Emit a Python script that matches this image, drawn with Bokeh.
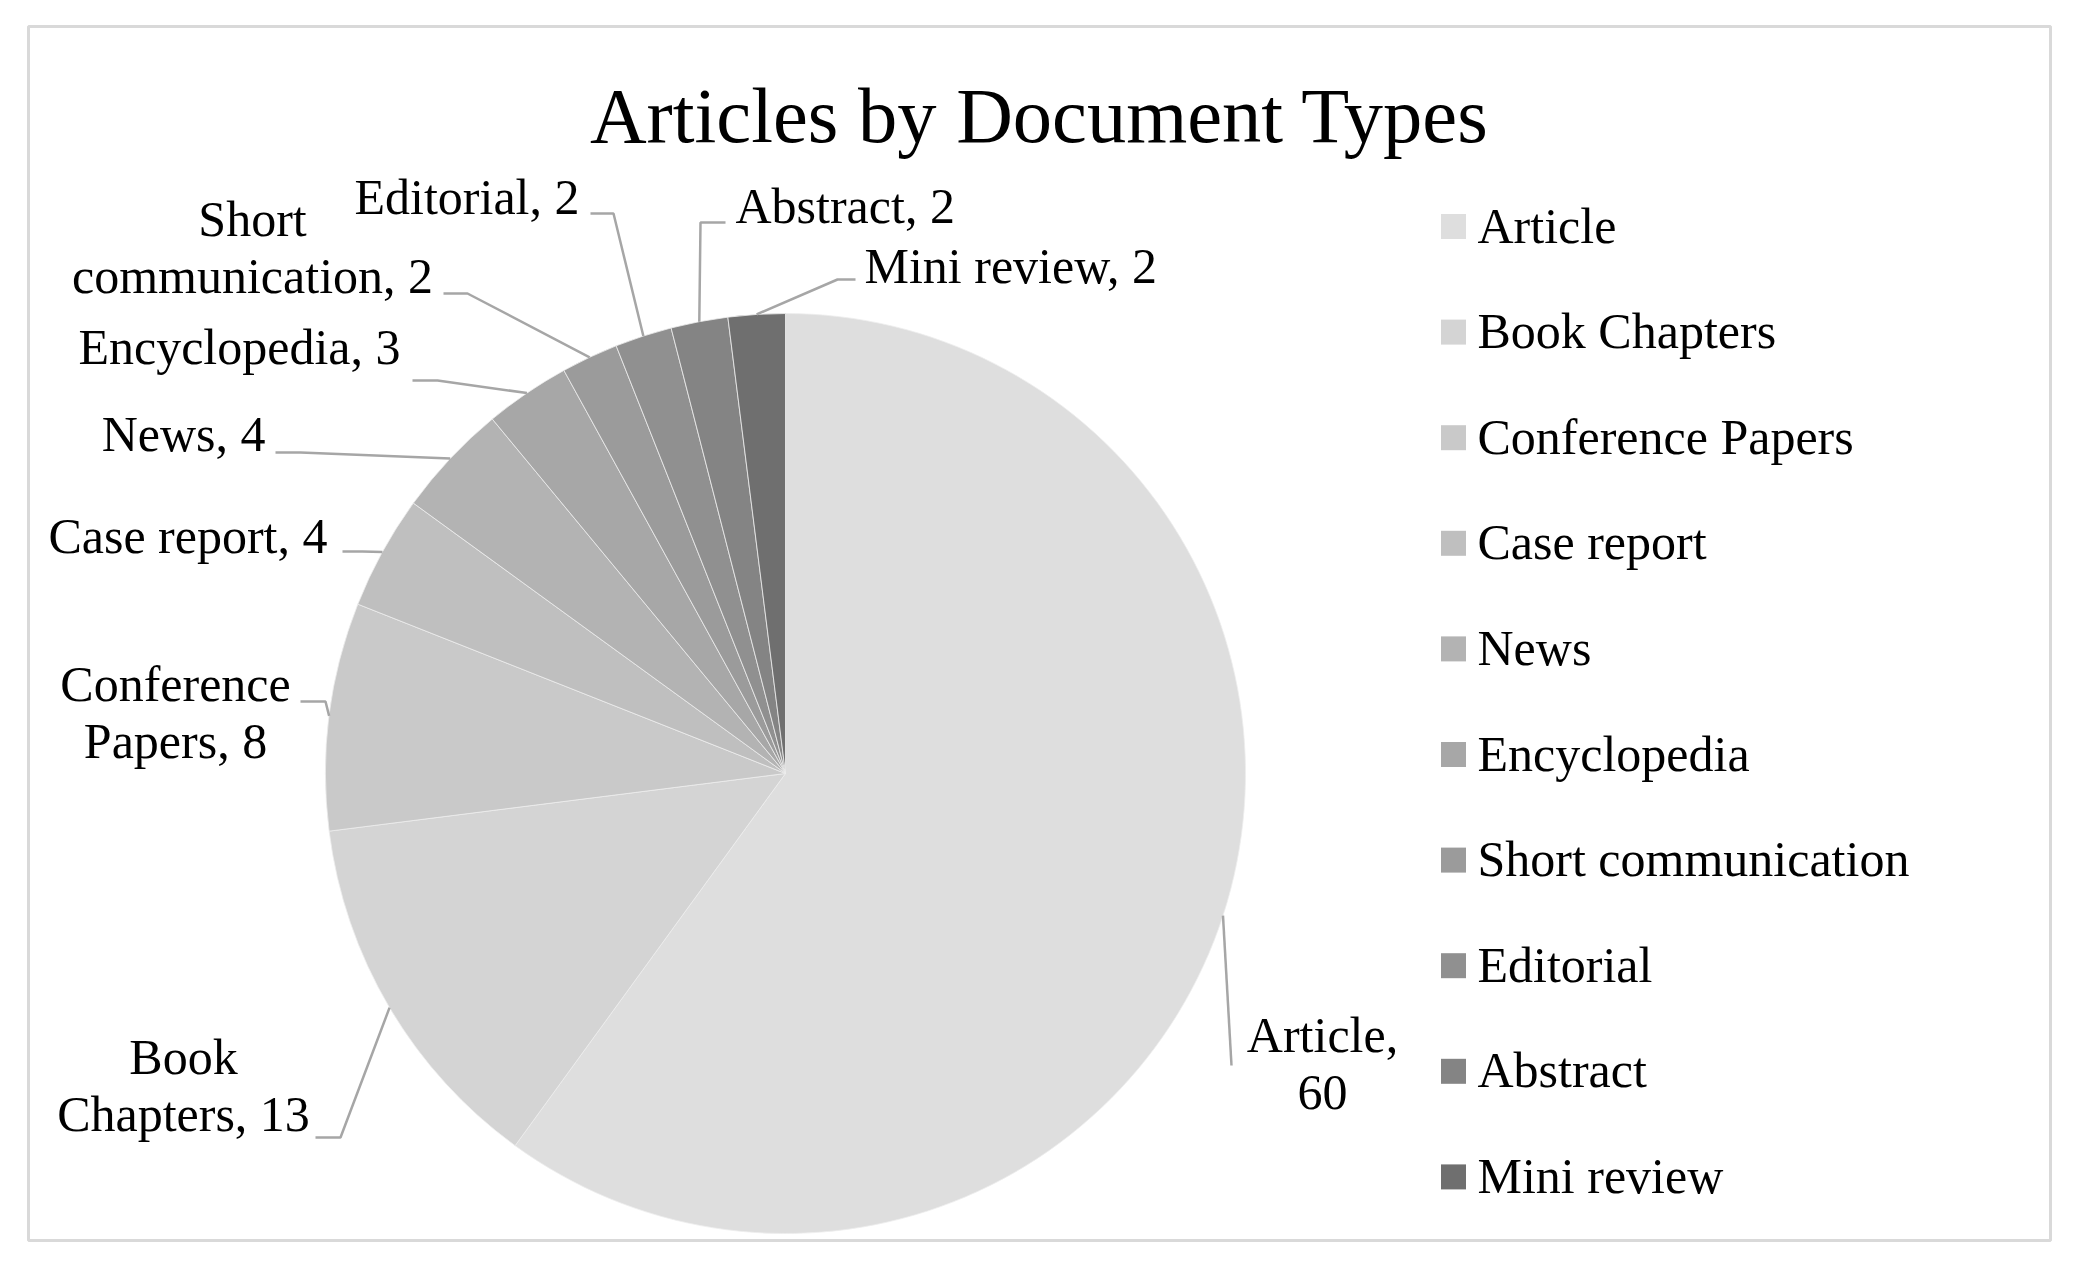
import math
from bokeh.plotting import figure
from bokeh.models import Range1d, ColumnDataSource
from bokeh.core.properties import value
from bokeh.embed import file_html
from bokeh.resources import INLINE

# ---------------- data ----------------
categories = ["Article", "Book Chapters", "Conference Papers", "Case report", "News",
              "Encyclopedia", "Short communication", "Editorial", "Abstract", "Mini review"]
counts = [60, 13, 8, 4, 4, 3, 2, 2, 2, 2]
colors = ["#dedede", "#d4d4d4", "#c9c9c9", "#bfbfbf", "#b3b3b3",
          "#a7a7a7", "#9b9b9b", "#909090", "#848484", "#6f6f6f"]
# how each data label is broken into lines
label_lines = [["Article,", "60"], ["Book", "Chapters, 13"], ["Conference", "Papers, 8"],
               ["Case report, 4"], ["News, 4"], ["Encyclopedia, 3"],
               ["Short", "communication, 2"], ["Editorial, 2"], ["Abstract, 2"], ["Mini review, 2"]]
title = "Articles by Document Types"

# ---------------- layout (page pixels, y measured from top) ----------------
W, H = 2077, 1270
FONT = "Liberation Serif"
CX, CY, R = 785, 773, 460
# label anchor: (x, first baseline y, align); leader elbow points (from pie edge outward)
label_layout = [
    (1322, 1051, "center", [(1231, 1065)]),
    (183, 1073, "center", [(340, 1137), (315, 1137)]),
    (175, 700, "center", [(325, 701), (300, 701)]),
    (327, 552, "right", [(362, 551), (342, 551)]),
    (265, 450, "right", [(300, 452), (275, 452)]),
    (400, 363, "right", [(437, 380), (412, 380)]),
    (252, 235, "center", [(467, 293), (443, 293)]),
    (579, 213, "right", [(613, 213), (590, 213)]),
    (735, 222, "left", [(700, 222), (725, 222)]),
    (864, 282, "left", [(837, 279), (855, 279)]),
]
LINE_PITCH = 57.5
LEG_X, LEG_Y0, LEG_DY, LEG_SQ = 1453, 226, 105.6, 25
BASE_SHIFT = 0.34  # baseline correction, in em


def Y(y):
    return H - y


p = figure(width=W - 16, height=H - 16, x_range=Range1d(0, W - 16), y_range=Range1d(16, H),
           output_backend="svg", toolbar_location=None, min_border=0)
p.axis.visible = False
p.grid.visible = False
p.outline_line_color = None
p.background_fill_color = "white"
p.border_fill_color = "white"

# chart-area border
p.rect(x=[(28 + 2050) / 2], y=[Y((26 + 1240) / 2)], width=[2050 - 28], height=[1240 - 26],
       fill_color=None, line_color="#d9d9d9", line_width=3)

# pie wedges
total = sum(counts)
starts, ends, mids = [], [], []
cum = 0
for c in counts:
    a0 = math.pi / 2 - 2 * math.pi * cum / total
    cum += c
    a1 = math.pi / 2 - 2 * math.pi * cum / total
    starts.append(a0)
    ends.append(a1)
    mids.append((a0 + a1) / 2)

src = ColumnDataSource(dict(cat=categories, n=counts, color=colors, start=starts, end=ends))
p.wedge(x=CX, y=Y(CY), radius=R, start_angle="start", end_angle="end", direction="clock",
        fill_color="color", line_color="#eeeeee", line_width=0.8, source=src)

# leader lines
xs, ys = [], []
for m, (_, _, _, elbows) in zip(mids, label_layout):
    ax = CX + R * math.cos(m)
    ay = Y(CY) + R * math.sin(m)
    xs.append([ax] + [e[0] for e in elbows])
    ys.append([ay] + [Y(e[1]) for e in elbows])
p.multi_line(xs=xs, ys=ys, line_color="#a6a6a6", line_width=2.5)

# data labels
tx, ty, tt, ta = [], [], [], []
for lines, (lx, ly, al, _) in zip(label_lines, label_layout):
    for i, t in enumerate(lines):
        tx.append(lx)
        ty.append(Y(ly + i * LINE_PITCH) + BASE_SHIFT * 50)
        tt.append(t)
        ta.append(al)
p.text(x=tx, y=ty, text=tt, text_align=ta, text_baseline="alphabetic",
       text_font=value(FONT), text_font_size=value("50px"), text_color="#000000")

# title
p.text(x=[1039], y=[Y(142) + BASE_SHIFT * 78.5], text=[title], text_align="center",
       text_baseline="alphabetic",
       text_font=value(FONT), text_font_size=value("78.5px"), text_color="#000000")

# legend
leg_y = [Y(LEG_Y0 + i * LEG_DY) for i in range(len(categories))]
p.rect(x=[LEG_X] * len(categories), y=leg_y, width=LEG_SQ, height=LEG_SQ,
       fill_color=colors, line_color=None)
p.text(x=[LEG_X + 24] * len(categories), y=[v - 16 + BASE_SHIFT * 50 for v in leg_y],
       text=categories, text_align="left", text_baseline="alphabetic",
       text_font=value(FONT), text_font_size=value("50px"), text_color="#000000")

open("out.html", "w").write(file_html(p, INLINE))
